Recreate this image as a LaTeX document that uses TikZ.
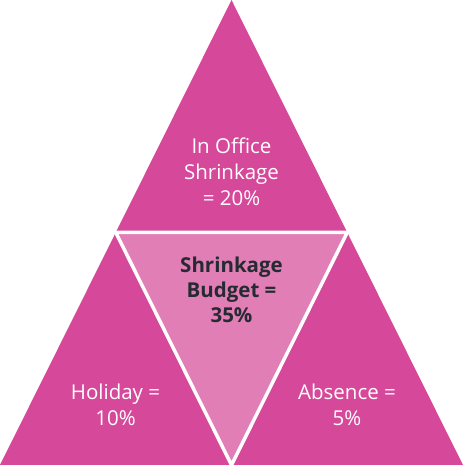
\documentclass[tikz,border=0pt]{standalone}
\usepackage{fontspec}
\setmainfont{Open Sans}
\usetikzlibrary{positioning}
\definecolor{outerpink}{HTML}{D5489A}
\definecolor{innerpink}{HTML}{E07EB5}
\definecolor{darktext}{HTML}{262A33}

\begin{document}
\begin{tikzpicture}[x=1pt, y=1pt,
    outer/.style={fill=outerpink},
    inner/.style={fill=innerpink, draw=white, line width=3.5pt, line join=miter},
    part/.style={align=center, font=\fontsize{20.5}{26}\selectfont, text=white},
    budget/.style={align=center, font=\fontsize{20.5}{25}\selectfont\bfseries, text=darktext}]
    \useasboundingbox (0,0) rectangle (463,465);
    \coordinate (top) at (231.5,465);
    \coordinate (left) at (0,0);
    \coordinate (right) at (463,0);
    \coordinate (ml) at (115.75,232.5);
    \coordinate (mr) at (347.25,232.5);
    \coordinate (mb) at (231.5,0);
    \fill[outer] (top) -- (left) -- (right) -- cycle;
    \draw[inner] (ml) -- (mr) -- (mb) -- cycle;
    \node (office) [part] at (231.5,293) {In Office\\Shrinkage\\= 20\%};
    \node (total) [budget] at (231.5,175) {Shrinkage\\Budget =\\35\%};
    \node (holiday) [part] at (115.5,60) {Holiday =\\10\%};
    \node (absence) [part] at (347,60) {Absence =\\5\%};
\end{tikzpicture}
\end{document}
